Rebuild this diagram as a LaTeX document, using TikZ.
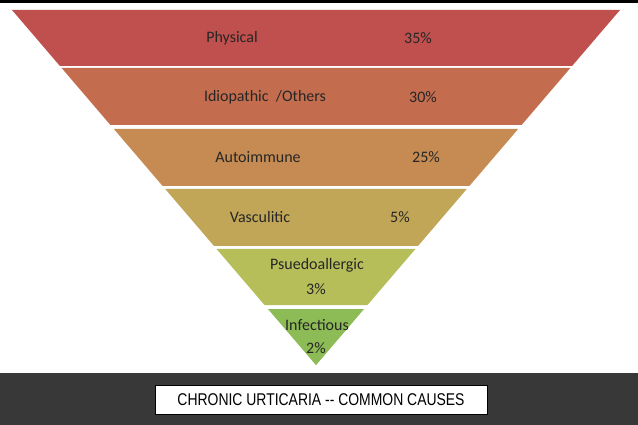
\documentclass[tikz,border=0pt]{standalone}
\usepackage{fontspec}
\setmainfont{Carlito}
\newfontfamily\capfont{Liberation Sans}
\begin{document}
\begin{tikzpicture}[x=1pt,y=-1pt,
  lbl/.style={text=black!85,font=\fontsize{16}{18}\selectfont,inner sep=0pt,align=center}]
\useasboundingbox (0,0) rectangle (638,425);
\fill[white] (0,0) rectangle (638,425);
\fill[black] (0,0) rectangle (638,3);
\fill[black!78] (0,373) rectangle (638,425);
\def\xl#1{12+0.856*(#1-10)}
\def\xr#1{620-0.856*(#1-10)}
\foreach \a/\b/\c in {10/66/C0504D,68/125/C46D4E,129/186/C68B52,189/246/C2A657,249/305/B6BE59,309/365/8DBB55}{
  \definecolor{bc}{HTML}{\c}
  \fill[bc] ({\xl{\a}},\a) -- ({\xr{\a}},\a) -- ({\xr{\b}},\b) -- ({\xl{\b}},\b) -- cycle;
}
\node[lbl] (p1) at (232,38) {Physical};
\node[lbl] (p2) at (418,38) {35\%};
\node[lbl] (i1) at (265,97) {Idiopathic\ \ /Others};
\node[lbl] (i2) at (423,97) {30\%};
\node[lbl] (a1) at (258,157) {Autoimmune};
\node[lbl] (a2) at (426,157) {25\%};
\node[lbl] (v1) at (260,217) {Vasculitic};
\node[lbl] (v2) at (400,217) {5\%};
\node[lbl] (s1) at (317,265) {Psuedoallergic};
\node[lbl] (s2) at (316,289) {3\%};
\node[lbl] (n1) at (317,325) {Infectious};
\node[lbl] (n2) at (316,348) {2\%};
\node[draw=black,fill=white,minimum width=332pt,minimum height=29pt,inner sep=0pt,
  font=\capfont\fontsize{17}{19}\selectfont] (cap) at (321,399.5) {\scalebox{0.82}[1]{CHRONIC URTICARIA -- COMMON CAUSES}};
\end{tikzpicture}
\end{document}
